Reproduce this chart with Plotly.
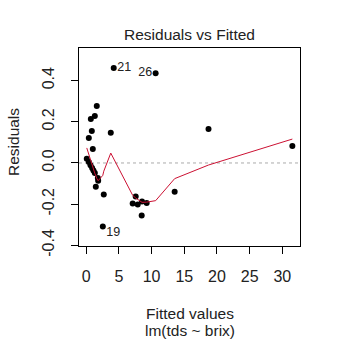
import plotly.graph_objects as go

# Fitted values and residuals
fitted = [4.21, 10.62, 1.62, 1.32, 0.71, 0.86, 3.76, 0.40, 1.01, 0.09,
          0.40, 0.66, 0.91, 1.11, 1.32, 1.78, 1.83, 1.47, 2.69, 2.54,
          7.57, 7.11, 7.88, 8.54, 9.25, 8.49, 13.53, 18.71, 31.53]
residuals = [0.461, 0.436, 0.276, 0.228, 0.213, 0.155, 0.147, 0.121, 0.068, 0.021,
             0.005, -0.011, -0.024, -0.037, -0.049, -0.073, -0.086, -0.115, -0.153, -0.308,
             -0.163, -0.197, -0.202, -0.187, -0.194, -0.255, -0.140, 0.165, 0.082]

# Smoother (lowess) line
smooth_x = [0.09, 0.40, 0.66, 1.01, 1.32, 1.62, 1.83, 2.54, 2.69, 3.76, 4.21,
            7.11, 7.57, 8.54, 9.25, 10.62, 13.53, 18.71, 31.53]
smooth_y = [0.073, 0.040, 0.010, -0.020, -0.050, -0.075, -0.086, -0.060, -0.040, 0.048, 0.020,
            -0.157, -0.170, -0.191, -0.190, -0.183, -0.076, -0.010, 0.116]

# Labelled observations
label_ids = ["21", "26", "19"]
label_x = [4.21, 10.62, 2.54]
label_y = [0.461, 0.436, -0.308]
label_pos = ["middle right", "middle left", "bottom right"]

x_ticks = [0, 5, 10, 15, 20, 25, 30]
y_ticks = [-0.4, -0.2, 0.0, 0.2, 0.4]

FONT = "Liberation Sans, Arial, sans-serif"

fig = go.Figure()
fig.add_trace(go.Scatter(x=[-1.1, 32.7], y=[0, 0], mode="lines",
                         line=dict(color="#AAAAAA", width=1, dash="dot"),
                         hoverinfo="skip"))
fig.add_trace(go.Scatter(x=fitted, y=residuals, mode="markers",
                         marker=dict(color="black", size=6)))
fig.add_trace(go.Scatter(x=smooth_x, y=smooth_y, mode="lines",
                         line=dict(color="#CC1133", width=1)))
fig.add_trace(go.Scatter(x=label_x, y=label_y, mode="text",
                         text=[" " + t if p.endswith("right") else t + " " for t, p in zip(label_ids, label_pos)],
                         textposition=label_pos,
                         textfont=dict(family=FONT, size=12.5, color="#222222")))

fig.update_layout(
    width=341, height=345,
    margin=dict(l=79, r=41, t=48, b=99),
    paper_bgcolor="white", plot_bgcolor="white",
    showlegend=False,
    font=dict(family=FONT, size=16, color="#222222"),
    xaxis=dict(range=[-1.1, 32.7], tickvals=x_ticks, ticks="outside", ticklen=7,
               tickcolor="black", showgrid=False, zeroline=False,
               showline=True, mirror=True, linecolor="black", linewidth=1,
               ticklabelstandoff=9),
    yaxis=dict(range=[-0.403, 0.558], tickvals=y_ticks, ticktext=[f"{v:.1f}" for v in y_ticks],
               ticks="outside", ticklen=7, tickangle=-90,
               tickcolor="black", showgrid=False, zeroline=False,
               showline=True, mirror=True, linecolor="black", linewidth=1,
               ticklabelstandoff=11),
    annotations=[
        dict(text="Residuals vs Fitted", xref="paper", yref="paper", x=0.5, y=1,
             xanchor="center", yanchor="bottom", yshift=3, showarrow=False,
             font=dict(size=15.5)),
        dict(text="Fitted values", xref="paper", yref="paper", x=0.5, y=0,
             xanchor="center", yanchor="middle", yshift=-67, showarrow=False,
             font=dict(size=15.5)),
        dict(text="lm(tds ~ brix)", xref="paper", yref="paper", x=0.5, y=0,
             xanchor="center", yanchor="middle", yshift=-84, showarrow=False,
             font=dict(size=15.5)),
        dict(text="Residuals", xref="paper", yref="paper", x=0, y=0.5,
             xanchor="center", yanchor="middle", xshift=-66, yshift=5,
             textangle=-90, showarrow=False, font=dict(size=15.5)),
    ],
)

fig.write_html("out.html")
